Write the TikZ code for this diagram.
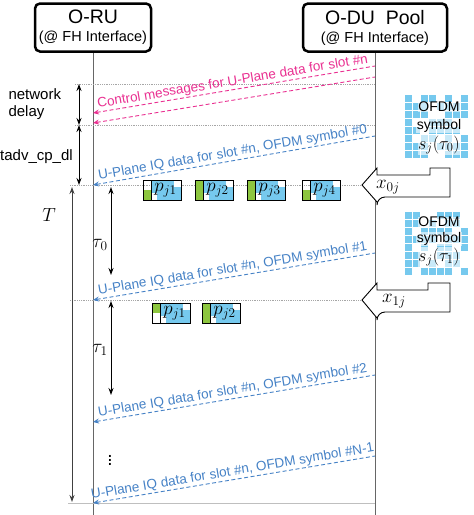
\RequirePackage{fix-cm}
\documentclass[tikz,border=0pt]{standalone}
\usepackage[no-math]{fontspec}
\setmainfont{Liberation Sans}
\usetikzlibrary{arrows.meta}

\definecolor{cpink}{RGB}{233,48,145}
\definecolor{ublue}{RGB}{70,130,198}
\definecolor{lblue}{RGB}{118,201,238}
\definecolor{pgreen}{RGB}{141,198,63}

\tikzset{
  endpoint/.style={draw, rounded corners=5pt, line width=2.5pt, align=center,
    minimum height=48pt, inner sep=1pt, font=\fontsize{14.5}{18}\selectfont},
  lifeline/.style={draw=black!60, line width=0.8pt},
  guide/.style={draw=black!35, densely dotted, line width=0.8pt},
  ctrlmsg/.style={color=cpink, dash pattern=on 4pt off 2.5pt, line width=0.9pt,
    {Stealth[length=6pt,width=5pt]}-},
  upmsg/.style={color=ublue, dash pattern=on 4pt off 2.5pt, line width=0.9pt,
    {Stealth[length=6pt,width=5pt]}-},
  msgtext/.style={sloped, above, inner sep=1pt, font=\fontsize{13.5}{16}\selectfont},
  span/.style={line width=1pt, {Stealth[length=7pt,width=5pt]}-{Stealth[length=7pt,width=5pt]}},
  mathlbl/.style={font=\fontsize{19}{19}\selectfont, inner sep=1pt},
  sym/.style={fill=white, fill opacity=0.6, text opacity=1, inner sep=0.5pt,
    font=\fontsize{14}{16}\selectfont},
  bigarrow/.style={draw, fill=white, line width=0.9pt},
  pkt/.style 2 args={draw, line width=1pt, minimum width=38pt, minimum height=20pt,
    inner sep=0pt, font=\fontsize{19}{19}\selectfont,
    path picture={
      \fill[lblue] ([xshift=8pt]path picture bounding box.south west)
        rectangle (path picture bounding box.north east);
      \fill[white] ([xshift=-7pt,yshift=-7pt]path picture bounding box.north east)
        rectangle (path picture bounding box.north east);
      \fill[white] ([xshift=8pt]path picture bounding box.south west)
        rectangle ([xshift=14pt,yshift=7pt]path picture bounding box.south west);
      \fill[pgreen] ([yshift=#1]path picture bounding box.south west)
        rectangle ([xshift=8pt,yshift=#2]path picture bounding box.south west);
      \draw[line width=1pt] ([xshift=8pt]path picture bounding box.south west)
        -- ([xshift=8pt]path picture bounding box.north west);
    }},
}

\begin{document}
\begin{tikzpicture}[x=1pt, y=-1pt]
  \useasboundingbox (0,0) rectangle (474,515);

  % the two ends of the fronthaul
  \node[endpoint, minimum width=116pt] (oru) at (93,27.5)
    {{\fontsize{19.5}{18}\selectfont O-RU}\\(@ FH Interface)};
  \node[endpoint, minimum width=144pt] (odu) at (375,27.5)
    {{\fontsize{19.5}{18}\selectfont O-DU\ \ Pool}\\(@ FH Interface)};
  \coordinate (orubot) at (93,515);
  \coordinate (odubot) at (375,515);
  \draw[lifeline] (oru) -- (orubot);
  \draw[lifeline] (odu) -- (odubot);

  % time marks
  \draw[guide] (75,84) -- (375,84);
  \draw[guide] (75,125) -- (375,125);
  \draw[guide] (70,185) -- (362,185);
  \draw[guide] (70,300) -- (362,300);
  \draw[draw=black!25, line width=1pt] (68,503) -- (375,503);

  % messages
  \coordinate (c1du) at (375,66);  \coordinate (c1ru) at (93,113);
  \coordinate (c2du) at (375,77);  \coordinate (c2ru) at (93,123);
  \coordinate (u0du) at (375,136); \coordinate (u0ru) at (93,185);
  \coordinate (u1du) at (375,253); \coordinate (u1ru) at (93,300);
  \coordinate (u2du) at (375,375); \coordinate (u2ru) at (93,422);
  \coordinate (u3du) at (375,456); \coordinate (u3ru) at (93,503);
  \draw[ctrlmsg] (c1ru) -- node[msgtext] {Control messages for U-Plane data for slot \#n} (c1du);
  \draw[ctrlmsg] (c2ru) -- (c2du);
  \draw[upmsg] (u0ru) -- node[msgtext] {U-Plane IQ data for slot \#n, OFDM symbol \#0} (u0du);
  \draw[upmsg] (u1ru) -- node[msgtext] {U-Plane IQ data for slot \#n, OFDM symbol \#1} (u1du);
  \draw[upmsg] (u2ru) -- node[msgtext] {U-Plane IQ data for slot \#n, OFDM symbol \#2} (u2du);
  \draw[upmsg] (u3ru) -- node[msgtext] {U-Plane IQ data for slot \#n, OFDM symbol \#N-1} (u3du);

  % intervals
  \node[anchor=west, align=left, font=\fontsize{15}{17}\selectfont] (netdelay) at (5,104) {network\\delay};
  \node[anchor=west, font=\fontsize{15}{17}\selectfont, inner sep=0pt] (tadv) at (0,157) {tadv\_cp\_dl};
  \draw[span] (79,84) -- (79,125);
  \draw[span] (79,125) -- (79,185);
  \draw[span, draw=black!75] (72,187) -- (72,502);
  \draw[span] (111,187) -- (111,275);
  \draw[span] (111,301) -- (111,395);
  \node[mathlbl] (tlbl) at (49,215) {$T$};
  \node[mathlbl] (tau0) at (100,245) {$\tau_0$};
  \node[mathlbl] (tau1) at (100,350) {$\tau_1$};
  \node[mathlbl] (dots) at (110,457) {$\vdots$};

  % OFDM symbols
  \foreach \k/\yy in {0/95, 1/212} {
    \foreach \i in {0,...,7} {
      \foreach \j in {0,...,7} {
        \pgfmathtruncatemacro\cellon{mod(3*\i*\i+5*\j+7*\i*\j+2*\k,5)<3}
        \ifnum\cellon=1 \fill[lblue] ({405+8*\i},{\yy+8*\j}) rectangle ++(7,7); \fi
      }
    }
  }
  \node[sym] (ofdm0) at (439,107) {OFDM};
  \node[sym] (symb0) at (439,126) {symbol};
  \node[sym, font=\fontsize{18}{18}\selectfont] (s0) at (439,145) {$s_j(\tau_0)$};
  \node[sym] (ofdm1) at (439,222) {OFDM};
  \node[sym] (symb1) at (439,239) {symbol};
  \node[sym, font=\fontsize{18}{18}\selectfont] (s1) at (439,257) {$s_j(\tau_1)$};

  % samples handed to the O-DU
  \draw[bigarrow] (362,185) -- (377,168) -- (377,175) -- (430,175) -- (430,168)
    -- (450,168) -- (450,197) [rounded corners=8pt] -- (377,197) [sharp corners]
    -- (377,202) -- cycle;
  \draw[bigarrow] (362,300) -- (377,283) -- (377,290) -- (428,290) -- (428,283)
    -- (450,283) -- (450,312) [rounded corners=8pt] -- (377,312) [sharp corners]
    -- (377,318) -- cycle;
  \node[mathlbl] (x0) at (388,187) {$x_{0j}$};
  \node[mathlbl] (x1) at (394,301) {$x_{1j}$};

  % packets
  \node[pkt={0pt}{10pt}] (a1) at (162,190) {\hspace*{7pt}$p_{j1}$};
  \node[pkt={0pt}{20pt}] (a2) at (214,190) {\hspace*{7pt}$p_{j2}$};
  \node[pkt={0pt}{20pt}] (a3) at (266,190) {\hspace*{7pt}$p_{j3}$};
  \node[pkt={0pt}{10pt}] (a4) at (321,190) {\hspace*{7pt}$p_{j4}$};
  \node[pkt={10pt}{20pt}] (b1) at (171,313) {\hspace*{7pt}$p_{j1}$};
  \node[pkt={0pt}{20pt}] (b2) at (221,313) {\hspace*{7pt}$p_{j2}$};
\end{tikzpicture}
\end{document}
